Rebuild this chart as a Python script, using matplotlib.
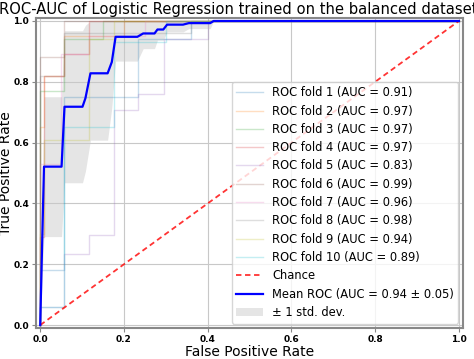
import numpy as np
import matplotlib
matplotlib.use("Agg")
import matplotlib.pyplot as plt

# per-fold ROC curves (approximate)
fold_aucs = [0.91, 0.97, 0.97, 0.97, 0.83, 0.99, 0.96, 0.98, 0.94, 0.89]
fold_fpr = [
    [0, 0, 0.058, 0.058, 0.234, 0.234, 0.36, 0.36, 1],
    [0, 0, 0.008, 0.008, 0.058, 0.058, 0.2, 0.2, 1],
    [0, 0, 0.058, 0.058, 0.15, 0.15, 1],
    [0, 0, 0.008, 0.008, 0.058, 0.058, 0.117, 0.117, 1],
    [0, 0, 0.058, 0.058, 0.117, 0.117, 0.177, 0.177, 0.234, 0.234, 0.295, 0.295, 0.40, 0.40, 1],
    [0, 0, 0.058, 0.058, 1],
    [0, 0, 0.05, 0.05, 0.117, 0.117, 0.25, 0.25, 1],
    [0, 0, 0.058, 0.058, 0.36, 0.36, 1],
    [0, 0, 0.008, 0.008, 0.117, 0.117, 0.177, 0.177, 1],
    [0, 0, 0.058, 0.058, 0.177, 0.177, 0.3, 0.3, 1],
]
fold_tpr = [
    [0, 0.18, 0.18, 0.75, 0.75, 0.94, 0.94, 1, 1],
    [0, 0.65, 0.65, 0.82, 0.82, 0.95, 0.95, 1, 1],
    [0, 0.77, 0.77, 0.94, 0.94, 1, 1],
    [0, 0.29, 0.29, 0.82, 0.82, 0.89, 0.89, 1, 1],
    [0, 0.06, 0.06, 0.235, 0.235, 0.295, 0.295, 0.707, 0.707, 0.76, 0.76, 0.94, 0.94, 1, 1],
    [0, 0.88, 0.88, 1, 1],
    [0, 0.53, 0.53, 0.89, 0.89, 0.95, 0.95, 1, 1],
    [0, 0.82, 0.82, 0.96, 0.96, 1, 1],
    [0, 0.30, 0.30, 0.61, 0.61, 0.94, 0.94, 1, 1],
    [0, 0.06, 0.06, 0.65, 0.65, 0.93, 0.93, 1, 1],
]

# mean ROC and its std
mean_fpr = [0, 0.009, 0.051, 0.058, 0.101, 0.108, 0.12, 0.161, 0.171, 0.18, 0.232,
            0.246, 0.273, 0.28, 0.294, 0.303, 0.341, 0.355, 0.406, 0.414, 1.0]
mean_tpr = [0, 0.521, 0.521, 0.718, 0.718, 0.746, 0.828, 0.828, 0.865, 0.948, 0.948,
            0.959, 0.959, 0.972, 0.972, 0.988, 0.988, 0.993, 0.993, 1.0, 1.0]
std_tpr = [0, 0.23, 0.23, 0.25, 0.25, 0.24, 0.22, 0.22, 0.15, 0.08, 0.08,
           0.05, 0.05, 0.035, 0.035, 0.024, 0.024, 0.018, 0.018, 0, 0]
mean_auc = 0.94
std_auc = 0.05

fig, ax = plt.subplots(figsize=(4.74, 3.59), dpi=100)
fig.subplots_adjust(left=0.076, right=0.977, bottom=0.086, top=0.95)

for i in range(len(fold_aucs)):
    ax.plot(fold_fpr[i], fold_tpr[i], lw=1, alpha=0.25,
            label='ROC fold %d (AUC = %0.2f)' % (i + 1, fold_aucs[i]))

ax.plot([0, 1], [0, 1], linestyle='--', lw=1.3, color='r', alpha=0.8,
        dashes=(3, 2), label='Chance')

ax.plot(mean_fpr, mean_tpr, color='b', lw=1.6,
        label='Mean ROC (AUC = %0.2f \u00b1 %0.2f)' % (mean_auc, std_auc))

upper = np.minimum(np.array(mean_tpr) + np.array(std_tpr), 1)
lower = np.maximum(np.array(mean_tpr) - np.array(std_tpr), 0)
ax.fill_between(mean_fpr, lower, upper, color='grey', alpha=0.2, lw=0,
                label='\u00b1 1 std. dev.')

ax.set_xlim(-0.01, 1.01)
ax.set_ylim(-0.01, 1.01)
ax.set_xticks([0, 0.2, 0.4, 0.6, 0.8, 1.0])
ax.set_yticks([0, 0.2, 0.4, 0.6, 0.8, 1.0])
ax.tick_params(labelsize=6.5, length=3, color='#888888', pad=2)
for t in ax.get_xticklabels() + ax.get_yticklabels():
    t.set_fontweight('bold')
ax.grid(True, color='#c8c8c8', lw=0.8)
for s in ax.spines.values():
    s.set_color('#888888')
    s.set_linewidth(1.5)

ax.set_xlabel('False Positive Rate', fontsize=10, labelpad=1)
ax.set_ylabel('True Positive Rate', fontsize=10, labelpad=0)
ax.set_title('ROC-AUC of Logistic Regression trained on the balanced dataset',
             fontsize=10.6, pad=3, x=0.474)
ax.legend(loc='lower right', fontsize=8.3, labelspacing=0.46, handlelength=2.3,
          handletextpad=0.8, borderaxespad=0.4, framealpha=0.8)

plt.savefig('out.png')
